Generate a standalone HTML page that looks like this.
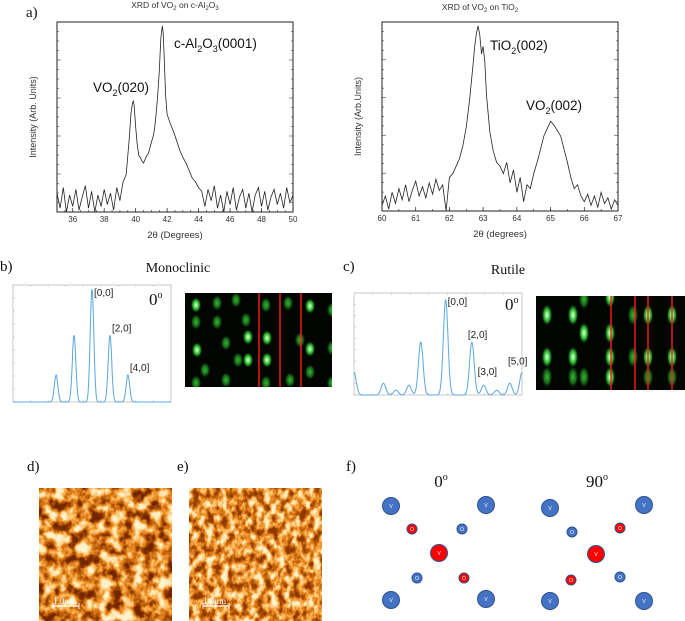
<!DOCTYPE html>
<html><head><meta charset="utf-8">
<style>
html,body{margin:0;padding:0;background:#fff;}
svg{display:block;font-family:"Liberation Sans",sans-serif;}
.serif{font-family:"Liberation Serif",serif;}
</style></head>
<body>
<svg id="fig" width="685" height="621" viewBox="0 0 685 621" xmlns="http://www.w3.org/2000/svg">
<defs>
  <filter id="afm1" x="0" y="0" width="100%" height="100%" color-interpolation-filters="sRGB">
    <feTurbulence type="fractalNoise" baseFrequency="0.09" numOctaves="3" seed="3" result="n"/>
    <feColorMatrix in="n" type="matrix" values="2.2 0 0 0 -0.6  2.2 0 0 0 -0.6  2.2 0 0 0 -0.6  0 0 0 0 1" result="g"/>
    <feComponentTransfer in="g">
      <feFuncR type="table" tableValues="0.45 0.55 0.72 0.85 0.95 1 1 1"/>
      <feFuncG type="table" tableValues="0.15 0.22 0.35 0.48 0.6 0.75 0.88 0.95"/>
      <feFuncB type="table" tableValues="0 0 0.03 0.1 0.2 0.4 0.65 0.8"/>
    </feComponentTransfer>
  </filter>
  <filter id="afm2" x="0" y="0" width="100%" height="100%" color-interpolation-filters="sRGB">
    <feTurbulence type="fractalNoise" baseFrequency="0.14 0.11" numOctaves="3" seed="9" result="n"/>
    <feColorMatrix in="n" type="matrix" values="2.2 0 0 0 -0.6  2.2 0 0 0 -0.6  2.2 0 0 0 -0.6  0 0 0 0 1" result="g"/>
    <feComponentTransfer in="g">
      <feFuncR type="table" tableValues="0.55 0.65 0.78 0.88 0.96 1 1 1"/>
      <feFuncG type="table" tableValues="0.22 0.3 0.4 0.5 0.62 0.76 0.88 0.95"/>
      <feFuncB type="table" tableValues="0 0.02 0.05 0.12 0.22 0.42 0.65 0.8"/>
    </feComponentTransfer>
  </filter>
  <radialGradient id="spotG" cx="50%" cy="50%" r="50%">
    <stop offset="0" stop-color="#f4fff4"/>
    <stop offset="0.3" stop-color="#6be86b"/>
    <stop offset="0.65" stop-color="#1c8a1c"/>
    <stop offset="1" stop-color="#031803" stop-opacity="0"/>
  </radialGradient>
  <radialGradient id="spotD" cx="50%" cy="50%" r="50%">
    <stop offset="0" stop-color="#35b835"/>
    <stop offset="0.6" stop-color="#146014"/>
    <stop offset="1" stop-color="#031803" stop-opacity="0"/>
  </radialGradient>
  <clipPath id="clipMono"><rect x="185" y="293" width="147" height="94"/></clipPath>
  <clipPath id="clipRut"><rect x="536" y="296" width="149" height="94"/></clipPath>
</defs>
<g id="root"></g>
</svg>
<script>
// ---- data: XRD VO2 on c-Al2O3 ----
const xA = [35,35.2,35.4,35.6,35.8,36,36.2,36.4,36.6,36.8,37,37.2,37.4,37.6,37.8,38,38.2,38.4,38.6,38.8,39,39.2,39.4,39.5,39.6,39.7,39.8,39.85,39.9,40,40.1,40.2,40.3,40.4,40.5,40.6,40.7,40.8,40.9,41,41.1,41.2,41.3,41.4,41.5,41.6,41.65,41.7,41.75,41.8,41.9,42,42.2,42.4,42.6,42.8,43,43.2,43.4,43.6,43.8,44,44.2,44.4,44.6,44.8,45,45.2,45.4,45.6,45.8,46,46.2,46.4,46.6,46.8,47,47.2,47.4,47.6,47.8,48,48.2,48.4,48.6,48.8,49,49.2,49.4,49.6,49.8,50];
const yA = [10,2,13,0,9,3,12,1,8,14,2,11,0,9,3,12,4,10,1,13,6,16,20,30,40,52,58,59,57,45,36,30,29,27,26,28,30,31,34,37,40,44,52,62,75,92,96,99,95,85,62,52,47,43,38,33,29,26,22,18,16,13,11,3,12,6,14,2,9,0,11,4,13,1,8,12,2,10,0,9,13,3,11,1,8,12,4,10,2,13,5,9];
const ticksA = [36,38,40,42,44,46,48,50];
// ---- data: XRD VO2 on TiO2 ----
const xB = [60,60.1,60.2,60.3,60.4,60.5,60.6,60.7,60.8,60.9,61,61.1,61.2,61.3,61.4,61.5,61.6,61.7,61.8,61.9,62,62.1,62.2,62.3,62.4,62.5,62.6,62.7,62.75,62.8,62.85,62.9,62.95,63,63.05,63.1,63.2,63.3,63.4,63.5,63.6,63.7,63.8,63.9,64,64.1,64.2,64.3,64.4,64.5,64.6,64.7,64.8,64.9,65,65.1,65.2,65.3,65.4,65.5,65.6,65.7,65.8,65.9,66,66.1,66.2,66.3,66.4,66.5,66.6,66.7,66.8,66.9,67];
const yB = [3,8,1,10,4,12,6,14,5,11,16,8,13,7,15,9,17,11,14,0,18,20,24,28,35,45,60,78,88,95,99,94,84,88,80,62,42,32,26,24,20,26,15,22,10,18,5,14,12,20,26,33,40,44,48,46,43,40,33,26,18,12,14,8,5,9,3,8,2,10,4,7,1,6,3];
const ticksB = [60,61,62,63,64,65,66,67];
// ---- simulated diffraction profiles ----
const monoPeakPos = [-4,-2,0,2,4];
const monoPeakH = [0.24,0.59,1.0,0.59,0.24];
const monoLabels = ["[0,0]","[2,0]","[4,0]"];
const rutPeakPos = [-7,-4.75,-3.8,-2.8,-1.9,0,2,2.9,3.9,4.9,5.83];
const rutPeakH = [0.23,0.12,0.05,0.1,0.54,0.97,0.54,0.1,0.05,0.12,0.23];
const rutLabels = ["[0,0]","[2,0]","[3,0]","[5,0]"];

const NS="http://www.w3.org/2000/svg";
const root=document.getElementById('root');
function mk(tag,attrs,parent,text){const e=document.createElementNS(NS,tag);for(const k in attrs)e.setAttribute(k,attrs[k]);if(text!==undefined)e.textContent=text;(parent||root).appendChild(e);return e;}

function xrd(name,xs,ys,x0,x1,px0,px1,py0,py1,ticks,minorStep,xlab,ylab){
  const g=mk('g',{});
  
  
  const sx=v=>px0+(v-x0)/(x1-x0)*(px1-px0);
  const sy=v=>py1-v/100*(py1-py0-2);
  const fr=mk('rect',{x:px0,y:py0,width:px1-px0,height:py1-py0,fill:'none',stroke:'#222','stroke-width':1},g);
  
  
  let d='';xs.forEach((v,i)=>{d+=(i?'L':'M')+sx(v).toFixed(1)+','+sy(ys[i]).toFixed(1);});
  const p=mk('path',{d:d,fill:'none',stroke:'#222','stroke-width':0.8},g);
  
  
  for(let v=x0;v<=x1+1e-6;v+=minorStep){const X=sx(v);mk('line',{x1:X,y1:py1,x2:X,y2:py1-2,stroke:'#222','stroke-width':0.6},g);}
  ticks.forEach(t=>{const X=sx(t);mk('line',{x1:X,y1:py1,x2:X,y2:py1-4,stroke:'#222','stroke-width':0.7},g);
    const tl=mk('text',{x:X,y:py1+10,'font-size':8,'text-anchor':'middle',fill:'#333'},g,String(t));
    
    });
  for(let k=0;k<=20;k++){const Y=py1-k*(py1-py0)/20;const L=(k%4===0)?4:2;
    mk('line',{x1:px0,y1:Y,x2:px0+L,y2:Y,stroke:'#222','stroke-width':0.5},g);
    mk('line',{x1:px1,y1:Y,x2:px1-L,y2:Y,stroke:'#222','stroke-width':0.5},g);}
  const xl=mk('text',{x:(px0+px1)/2,y:py1+26,'font-size':9.5,'text-anchor':'middle',fill:'#333'},g,xlab);
  
  
  const yl=mk('text',{x:0,y:0,'font-size':9,'text-anchor':'middle',fill:'#333',transform:`translate(${px0-21},${(py0+py1)/2}) rotate(-90)`},g,ylab);
  
  
  return {g,sx,sy};
}

const A=xrd('xrd-al2o3-chart',xA,yA,35,50,57,293,22,212,ticksA,0.5,'2θ (Degrees)','Intensity (Arb. Units)');
const B=xrd('xrd-tio2-chart',xB,yB,60,67,382,618,22,211,ticksB,0.5,'2θ (degrees)','Intensity (Arb.Units)');

function t(x,y,s,txt,name,extra){const e=mk('text',Object.assign({x:x,y:y,'font-size':s,fill:'#111'},extra||{}),root);e.innerHTML=txt;
  
  return e;}
t(175,8,8.5,'XRD of VO<tspan font-size="6" dy="2">2</tspan><tspan dy="-2"> on c-Al</tspan><tspan font-size="6" dy="2">2</tspan><tspan dy="-2">O</tspan><tspan font-size="6" dy="2">3</tspan>','title-al2o3',{'text-anchor':'middle',fill:'#333'});
t(480,10,8.5,'XRD of  VO<tspan font-size="6" dy="2">2</tspan><tspan dy="-2"> on TiO</tspan><tspan font-size="6" dy="2">2</tspan>','title-tio2',{'text-anchor':'middle',fill:'#333'});
t(93,92,13.5,'VO<tspan font-size="9" dy="4">2</tspan><tspan dy="-4">(020)</tspan>','label-vo2-020');
t(174,48,13.5,'c-Al<tspan font-size="9" dy="4">2</tspan><tspan dy="-4">O</tspan><tspan font-size="9" dy="4">3</tspan><tspan dy="-4">(0001)</tspan>','label-al2o3-0001');
t(490,50,13.5,'TiO<tspan font-size="9" dy="4">2</tspan><tspan dy="-4">(002)</tspan>','label-tio2-002');
t(526,110,13.5,'VO<tspan font-size="9" dy="4">2</tspan><tspan dy="-4">(002)</tspan>','label-vo2-002');
t(26,17,15,'a)','panel-label-a',{class:'serif'});
t(0,271,15,'b)','panel-label-b',{class:'serif'});
t(343,271,15,'c)','panel-label-c',{class:'serif'});
t(178,272,14,'Monoclinic','title-monoclinic',{class:'serif','text-anchor':'middle'});
t(508,274,14,'Rutile','title-rutile',{class:'serif','text-anchor':'middle'});
t(27,471,15,'d)','panel-label-d',{class:'serif'});
t(177,471,15,'e)','panel-label-e',{class:'serif'});
t(346,471,15,'f)','panel-label-f',{class:'serif'});

function sim(name,pos,h,u0,u1,px0,px1,py0,py1,wid){
  const g=mk('g',{});
  
  
  const sx=u=>px0+(u-u0)/(u1-u0)*(px1-px0);
  const sy=v=>py1-v*(py1-py0-4);
  const fr=mk('rect',{x:px0,y:py0,width:px1-px0,height:py1-py0,fill:'none',stroke:'#bbb','stroke-width':0.8},g);
  
  
  for(let k=1;k<9;k++){const X=px0+k*(px1-px0)/9;mk('line',{x1:X,y1:py0,x2:X,y2:py0+2,stroke:'#bbb','stroke-width':0.6},g);mk('line',{x1:X,y1:py1,x2:X,y2:py1-2,stroke:'#bbb','stroke-width':0.6},g);}
  for(let k=1;k<9;k++){const Y=py0+k*(py1-py0)/9;mk('line',{x1:px0,y1:Y,x2:px0+2,y2:Y,stroke:'#bbb','stroke-width':0.6},g);}
  let d='';const N=400;
  for(let i=0;i<=N;i++){const u=u0+(u1-u0)*i/N;let v=0;pos.forEach((p,j)=>{v+=h[j]*Math.exp(-Math.pow((u-p)/wid,2));});
    d+=(i?'L':'M')+sx(u).toFixed(1)+','+sy(Math.min(v,1)).toFixed(1);}
  const p=mk('path',{d:d,fill:'none',stroke:'#5aa7e0','stroke-width':1},g);
  
  
  return {sx,sy};
}
const M=sim('monoclinic-profile',monoPeakPos,monoPeakH,-8.8,8.8,13,171,285,402,0.28);
const R=sim('rutile-profile',rutPeakPos,rutPeakH,-7,5.83,354,522,293,395,0.25);
[[0,1.0],[2,0.59],[4,0.24]].forEach((pk,i)=>{const e=mk('text',{x:M.sx(pk[0])+2,y:M.sy(pk[1])+(i?-4:7),'font-size':10,fill:'#222'},root,monoLabels[i]);
  
  });
[[0,0.97,2,5],[2,0.54,-4,-4],[2.9,0.1,-6,-10],[5.83,0.23,-14,-8]].forEach((pk,i)=>{const e=mk('text',{x:R.sx(pk[0])+pk[2],y:R.sy(pk[1])+pk[3],'font-size':10,fill:'#222'},root,rutLabels[i]);
  
  });
t(149,305,17,'0<tspan font-size="10" dy="-7">o</tspan>','angle-label-mono',{class:'serif'});
t(505,310,17,'0<tspan font-size="10" dy="-7">o</tspan>','angle-label-rutile',{class:'serif'});

const monoSpots=[[196,305,1],[217,303,0],[236,300,0],[196,322,0],[217,322,0],[246,320,0],[266,305,0],[288,303,0],[310,306,1],[332,310,0],[197,350,1],[226,343,0],[248,337,1],[267,338,1],[300,340,0],[310,349,1],[332,348,0],[205,370,0],[238,360,0],[248,360,1],[267,360,1],[310,372,0],[266,383,0],[290,380,0],[226,380,0],[196,383,0],[332,383,0]];
const rutSpots=[[547,315,1],[573,315,1],[584,299,0],[584,333,1],[610,297,1],[610,333,1],[633,315,0],[648,315,1],[672,315,1],[547,357,1],[573,357,1],[584,377,0],[610,357,1],[610,377,1],[633,357,0],[648,357,1],[672,357,1],[547,377,0],[573,377,0],[648,377,0],[672,377,0]];
const monoRed=[259,280,301];
const rutRed=[611,635,648,672];
function img(name,x,y,w,h,spots,reds,rx,ry,clip){
  const g=mk('g',{'clip-path':clip});
  
  
  mk('rect',{x:x,y:y,width:w,height:h,fill:'#020502'},g);
  spots.forEach(s=>{const e=mk('ellipse',{cx:s[0],cy:s[1],rx:rx,ry:ry,fill:s[2]?'url(#spotG)':'url(#spotD)'},g);
    
    });
  reds.forEach(X=>{const e=mk('line',{x1:X,y1:y,x2:X,y2:y+h,stroke:'#ff1a1a','stroke-width':1.4},g);
    
    });
}
img('monoclinic-image',185,293,147,94,monoSpots,monoRed,5.5,8,'url(#clipMono)');
img('rutile-image',536,296,149,94,rutSpots,rutRed,5.5,11,'url(#clipRut)');

function afm(name,x,f){
  const g=mk('g',{});
  
  
  mk('rect',{x:x,y:488,width:133,height:133,fill:'#c46a1a',filter:f},g);
  mk('line',{x1:x+14,y1:606,x2:x+40,y2:606,stroke:'#fff','stroke-width':1.2},g);
  mk('line',{x1:x+14,y1:603,x2:x+14,y2:609,stroke:'#fff','stroke-width':1},g);
  mk('line',{x1:x+40,y1:603,x2:x+40,y2:609,stroke:'#fff','stroke-width':1},g);
  const s=mk('text',{x:x+14,y:604,'font-size':9,fill:'#fff',class:'serif'},g,'1.0μm');
  
  
}
afm('afm-image-d',39,'url(#afm1)');
afm('afm-image-e',189,'url(#afm2)');

const atoms0=[[391,506,'V',0],[486,505,'V',0],[391,600,'V',0],[486,599,'V',0],[412,529,'O',1],[462,529,'O',0],[439,553,'V',1],[417,578,'O',0],[464,578,'O',1]];
const atoms90=[[550,508,'V',0],[644,505,'V',0],[550,601,'V',0],[644,601,'V',0],[572,532,'O',0],[620,528,'O',1],[596,554,'V',1],[571,580,'O',1],[620,577,'O',0]];
function atoms(name,list){
  const g=mk('g',{});
  
  
  list.forEach(a=>{const r=a[2]==='V'?8.5:5;
    const c=mk('circle',{cx:a[0],cy:a[1],r:r,fill:a[3]?'#ff0000':'#4472c4',stroke:'#2f528f','stroke-width':1},g);
    
    
    mk('text',{x:a[0],y:a[1]+2,'font-size':5,'text-anchor':'middle',fill:'#fff'},g,a[2]);});
}
atoms('atoms-0deg',atoms0);
atoms('atoms-90deg',atoms90);
t(441,487,17,'0<tspan font-size="10" dy="-7">o</tspan>','angle-label-0',{class:'serif','text-anchor':'middle'});
t(597,487,17,'90<tspan font-size="10" dy="-7">o</tspan>','angle-label-90',{class:'serif','text-anchor':'middle'});
</script>
</body></html>
